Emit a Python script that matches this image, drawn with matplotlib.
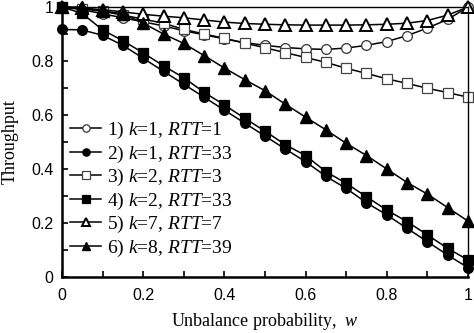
import numpy as np
import matplotlib
matplotlib.use("Agg")
import matplotlib.pyplot as plt

plt.rcParams['mathtext.fontset'] = 'custom'
plt.rcParams['mathtext.rm'] = 'Liberation Serif'
plt.rcParams['mathtext.it'] = 'Liberation Serif:italic'

w = [0.0, 0.05, 0.1, 0.15, 0.2, 0.25, 0.3, 0.35, 0.4, 0.45, 0.5,
     0.55, 0.6, 0.65, 0.7, 0.75, 0.8, 0.85, 0.9, 0.95, 1.0]

s1 = [1.0, 0.99, 0.975, 0.96, 0.945, 0.93, 0.912, 0.897, 0.882, 0.868, 0.858,
      0.85, 0.845, 0.843, 0.848, 0.858, 0.872, 0.894, 0.922, 0.954, 1.0]
s2 = [0.917, 0.915, 0.895, 0.858, 0.81, 0.762, 0.714, 0.666, 0.618, 0.570, 0.522,
      0.474, 0.427, 0.373, 0.328, 0.275, 0.23, 0.18, 0.131, 0.081, 0.035]
s3 = [1.0, 0.993, 0.984, 0.97, 0.955, 0.94, 0.917, 0.9, 0.884, 0.866, 0.849,
      0.831, 0.813, 0.795, 0.773, 0.754, 0.734, 0.717, 0.699, 0.683, 0.666]
s4 = [1.0, 0.976, 0.915, 0.875, 0.83, 0.782, 0.738, 0.684, 0.637, 0.588, 0.54,
      0.49, 0.45, 0.39, 0.347, 0.297, 0.248, 0.205, 0.156, 0.106, 0.063]
s5 = [1.0, 0.995, 0.99, 0.982, 0.973, 0.966, 0.96, 0.952, 0.944, 0.939, 0.936,
      0.934, 0.933, 0.933, 0.933, 0.934, 0.936, 0.94, 0.95, 0.97, 1.0]
s6 = [1.0, 1.0, 0.985, 0.975, 0.94, 0.9, 0.865, 0.82, 0.774, 0.731, 0.69,
      0.64, 0.592, 0.545, 0.495, 0.45, 0.4, 0.35, 0.307, 0.257, 0.207]

labels = [r"1) $k$=1, $RTT$=1", r"2) $k$=1, $RTT$=33", r"3) $k$=2, $RTT$=3",
          r"4) $k$=2, $RTT$=33", r"5) $k$=7, $RTT$=7", r"6) $k$=8, $RTT$=39"]

xticks = [0, 0.2, 0.4, 0.6, 0.8, 1]
xticklabels = ["0", "0.2", "0.4", "0.6", "0.8", "1"]
yticks = [0, 0.2, 0.4, 0.6, 0.8, 1]
yticklabels = ["0", "0.2", "0.4", "0.6", "0.8", "1"]

fig = plt.figure(figsize=(4.74, 3.33), dpi=100)
ax = fig.add_axes([62/474, 1-277/333, 406/474, 270/333])

styles = [
    dict(marker='o', mfc='white', mec='#333333', ms=7, mew=0.9),
    dict(marker='o', mfc='black', mec='black', ms=7, mew=0.9),
    dict(marker='s', mfc='white', mec='#444444', ms=7, mew=0.9),
    dict(marker='s', mfc='black', mec='black', ms=7, mew=0.9),
    dict(marker='^', mfc='white', mec='black', ms=8, mew=1.4),
    dict(marker='^', mfc='black', mec='black', ms=8, mew=1.0),
]
series = [s1, s2, s3, s4, s5, s6]
for s, st, lab in zip(series, styles, labels):
    ax.plot(w, s, color='black', lw=1.1, label=lab, clip_on=False, **st)

ax.set_xlim(0, 1)
ax.set_ylim(0, 1)
ax.set_xticks(xticks)
ax.set_xticklabels(xticklabels)
ax.set_yticks(yticks)
ax.set_yticklabels(yticklabels)
ax.set_xticks(np.arange(0, 1.01, 0.1), minor=True)
ax.set_yticks(np.arange(0, 1.01, 0.1), minor=True)
ax.tick_params(which='both', direction='in', length=4, width=1.2, top=False, right=False,
               labelsize=11.5)
ax.tick_params(axis='x', pad=8)
ax.tick_params(axis='y', pad=6)
for lbl in ax.get_xticklabels() + ax.get_yticklabels():
    lbl.set_fontfamily('Liberation Sans')

for side in ['left', 'bottom']:
    ax.spines[side].set_linewidth(1.8)
for side in ['top', 'right']:
    ax.spines[side].set_linewidth(1.0)

ax.set_ylabel("Throughput", family='Liberation Serif', fontsize=13, labelpad=9)
ax.set_xlabel(r"Unbalance probability,  $w$", family='Liberation Serif', fontsize=13, labelpad=6)

leg = ax.legend(loc='lower left', bbox_to_anchor=(0.02, 0.068), frameon=False,
                prop={'family': 'Liberation Serif', 'size': 14},
                handlelength=1.6, handletextpad=0.3, labelspacing=0.12,
                markerscale=0.75, borderpad=0, borderaxespad=0)

fig.savefig("out.png", dpi=100)
